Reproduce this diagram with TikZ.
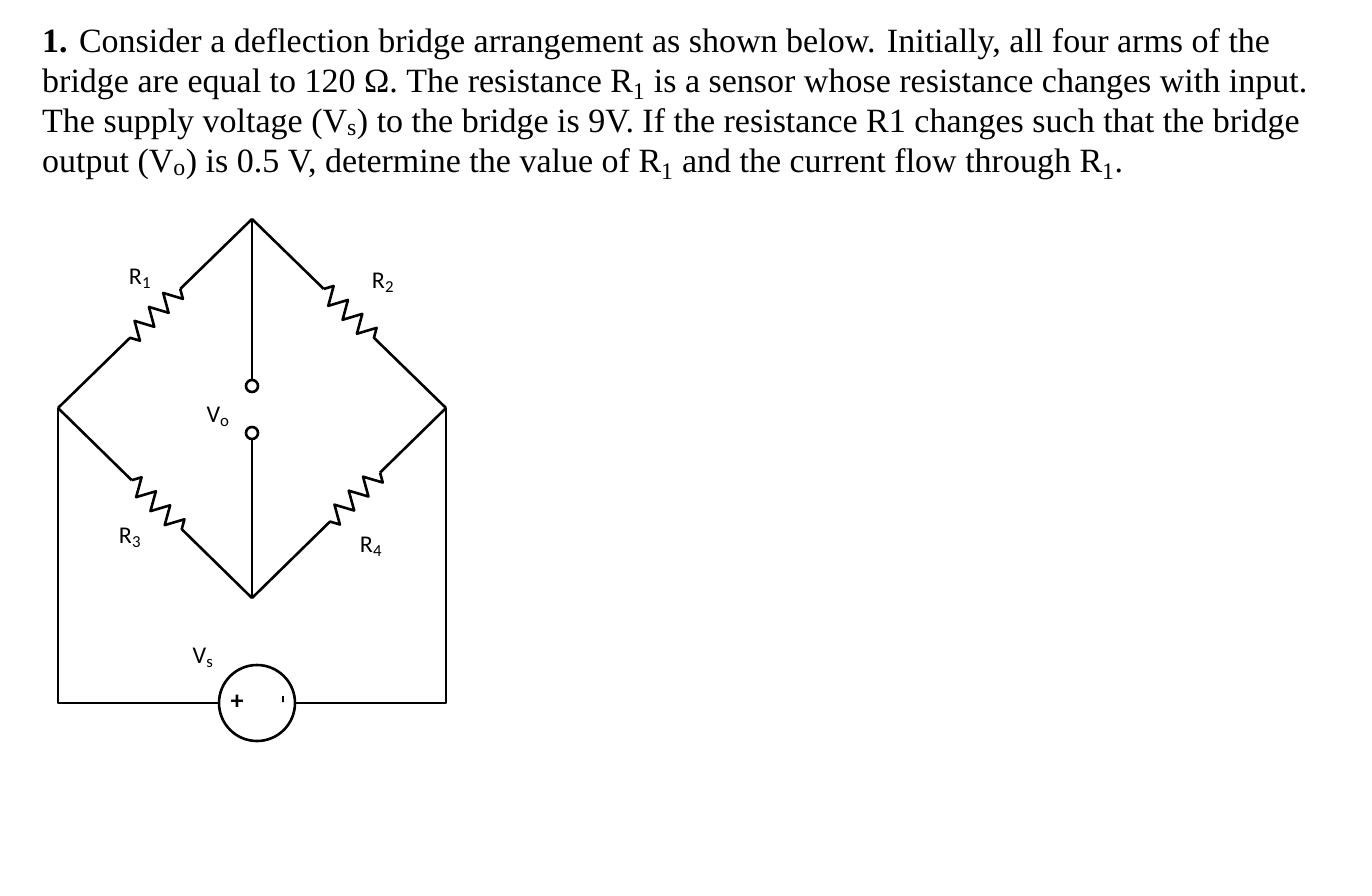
\documentclass[tikz,border=0pt]{standalone}
\usepackage{fontspec}
\setmainfont{Liberation Serif}
\newfontfamily\lblfont{Carlito}
\usetikzlibrary{calc,decorations.pathmorphing}
\tikzset{
  wire/.style={line width=2.6pt, line join=round},
  res/.style={wire, decorate, decoration={zigzag, amplitude=9pt, segment length=20pt}},
  txt/.style={anchor=base west, inner sep=0pt, font=\fontsize{34}{38}\selectfont},
  lbl/.style={inner sep=0pt, font=\lblfont\fontsize{24}{28}\selectfont},
  term/.style={circle, draw, line width=2.6pt, minimum size=12pt, inner sep=0pt, fill=white}
}
\begin{document}
\begin{tikzpicture}[x=1pt,y=-1pt]
\useasboundingbox (0,0) rectangle (1372,895);
\node[txt] (l1) at (42,52) {\textbf{1.} Consider a deflection bridge arrangement as shown below. Initially, all four arms of the};
\node[txt] (l2) at (42,92) {bridge are equal to 120 Ω. The resistance R\textsubscript{1} is a sensor whose resistance changes with input.};
\node[txt] (l3) at (42,132) {The supply voltage (V\textsubscript{s}) to the bridge is 9V. If the resistance R1 changes such that the bridge};
\node[txt] (l4) at (42,172) {output (V\textsubscript{o}) is 0.5 V, determine the value of R\textsubscript{1} and the current flow through R\textsubscript{1}.};

\coordinate (T) at (252,219);
\coordinate (L) at (58,408);
\coordinate (R) at (446,408);
\coordinate (B) at (252,598);
\coordinate (BL) at (58,703);
\coordinate (BR) at (446,703);
\node[circle, draw, line width=2.6pt, minimum size=76pt, inner sep=0pt] (S) at (257,703) {};
\node[term] (o1) at (252,386) {};
\node[term] (o2) at (252,433) {};

% R1
\draw[wire] (T) -- ($(T)!0.37!(L)$) coordinate (a1);
\draw[res] (a1) -- ($(T)!0.63!(L)$) coordinate (b1);
\draw[wire] (b1) -- (L);
% R2
\draw[wire] (T) -- ($(T)!0.37!(R)$) coordinate (a2);
\draw[res] (a2) -- ($(T)!0.63!(R)$) coordinate (b2);
\draw[wire] (b2) -- (R);
% R3
\draw[wire] (L) -- ($(L)!0.38!(B)$) coordinate (a3);
\draw[res] (a3) -- ($(L)!0.64!(B)$) coordinate (b3);
\draw[wire] (b3) -- (B);
% R4
\draw[wire] (R) -- ($(R)!0.34!(B)$) coordinate (a4);
\draw[res] (a4) -- ($(R)!0.60!(B)$) coordinate (b4);
\draw[wire] (b4) -- (B);

\draw[wire] (T) -- (o1);
\draw[wire] (B) -- (o2);
\draw[wire] (L) -- (BL) -- (S);
\draw[wire] (R) -- (BR) -- (S);

\node[lbl] (r1) at (140,279) {R\textsubscript{1}};
\node[lbl] (r2) at (383,283) {R\textsubscript{2}};
\node[lbl] (r3) at (130,538) {R\textsubscript{3}};
\node[lbl] (r4) at (371,547) {R\textsubscript{4}};
\node[lbl] (vo) at (218,417) {V\textsubscript{o}};
\node[lbl] (vs) at (203,658) {V\textsubscript{s}};
\node[lbl, font=\lblfont\fontsize{26}{28}\selectfont\bfseries] (plus) at (237,702) {+};
\node[draw, line width=1.8pt, minimum width=0pt, minimum height=6pt, inner sep=0pt] (minus) at (283,699) {};
\end{tikzpicture}
\end{document}
